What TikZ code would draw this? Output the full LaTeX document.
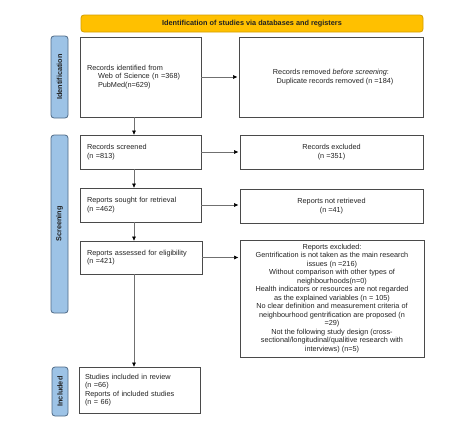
\documentclass[tikz,border=0pt]{standalone}
\usepackage{fontspec}
\setmainfont{Liberation Sans}
\usetikzlibrary{arrows.meta}
\definecolor{boxline}{HTML}{4A4A4A}
\definecolor{txt}{HTML}{222222}
\definecolor{arrgray}{HTML}{707070}
\definecolor{sidefill}{HTML}{9DC3E6}
\definecolor{sideline}{HTML}{4F6A86}
\definecolor{barfill}{HTML}{FFC000}
\definecolor{barline}{HTML}{D29E00}
\newcommand\dfont{\fontsize{7.3}{8.5}\selectfont}
\begin{document}
\begin{tikzpicture}[x=1pt,y=-1pt,
  box/.style={draw=boxline, line width=0.8pt, fill=white, inner sep=0pt, font=\dfont, text=txt},
  lbox/.style={box, align=left, inner xsep=7pt},
  cbox/.style={box, align=center},
  side/.style={draw=sideline, line width=0.8pt, fill=sidefill, rounded corners=3pt, inner sep=0pt,
    font=\dfont\bfseries, text=txt, rotate=90},
  bar/.style={draw=barline, line width=0.8pt, fill=barfill, rounded corners=3pt, inner sep=0pt,
    font=\dfont\bfseries, text=txt},
  arr/.style={draw=arrgray, line width=0.6pt, -{Triangle[length=4pt,width=3.6pt,color=black]}}]
\useasboundingbox[fill=white] (0,0) rectangle (474,423);

\node[bar, minimum width=342pt, minimum height=17pt] (bar) at (252,23.5)
  {Identification of studies via databases and registers};

\node[side, minimum width=82pt, minimum height=17pt] (idl) at (59.5,77) {Identification};
\node[side, minimum width=178pt, minimum height=17pt] (scl) at (59.5,224) {Screening};
\node[side, minimum width=49pt, minimum height=16pt] (inl) at (60,391.5) {Included};

\node[lbox, text width=107pt, minimum height=80pt] (b1) at (140.5,77)
  {Records identified from\\\hspace*{11pt}Web of Science (n =368)\\\hspace*{11pt}PubMed(n=629)};
\node[cbox, minimum width=184pt, minimum height=80pt] (b2) at (331,77)
  {Records removed \textit{before screening}:\\\hspace*{8pt}Duplicate records removed (n =184)};

\node[lbox, text width=107pt, minimum height=34pt] (b3) at (140.5,152)
  {Records screened\\(n =813)};
\node[cbox, minimum width=183pt, minimum height=34pt] (b4) at (331.5,152)
  {Records excluded\\(n =351)};

\node[lbox, text width=107pt, minimum height=34pt] (b5) at (140.5,205)
  {Reports sought for retrieval\\(n =462)};
\node[cbox, minimum width=183pt, minimum height=34pt] (b6) at (331.5,206)
  {Reports not retrieved\\(n =41)};

\node[lbox, text width=108pt, minimum height=33pt] (b7) at (141,257.5)
  {Reports assessed for eligibility\\(n =421)};
\node[cbox, minimum width=184pt, minimum height=117pt] (b8) at (332,298.5)
  {Reports excluded:\\
   Gentrification is not taken as the main research\\
   issues (n =216)\\
   Without comparison with other types of\\
   neighbourhoods(n=0)\\
   Health indicators or resources are not regarded\\
   as the explained variables (n = 105)\\
   No clear definition and measurement criteria of\\
   neighbourhood gentrification are proposed (n\\
   =29)\\
   Not the following study design (cross-\\
   sectional/longitudinal/qualitive research with\\
   interviews) (n=5)};

\node[lbox, inner xsep=6pt, text width=109pt, minimum height=46pt] (b9) at (139.5,390)
  {Studies included in review\\(n =66)\\Reports of included studies\\(n = 66)};

\coordinate (ax) at (134,0);

\draw[arr] (b1.east) -- ([xshift=-1.5pt]b2.west);
\draw[arr] (b3.east) -- ([xshift=-1.5pt]b4.west);
\draw[arr] (b5.east) -- ([xshift=-1.5pt]b5.east -| b6.west);
\draw[arr] (b7.east) -- ([xshift=-1.5pt]b7.east -| b8.west);

\draw[arr] (b1.south -| ax) -- (b3.north -| ax);
\draw[arr] (b3.south -| ax) -- (b5.north -| ax);
\draw[arr] (b5.south -| ax) -- (b7.north -| ax);
\draw[arr] (b7.south -| ax) -- (b9.north -| ax);
\end{tikzpicture}
\end{document}
